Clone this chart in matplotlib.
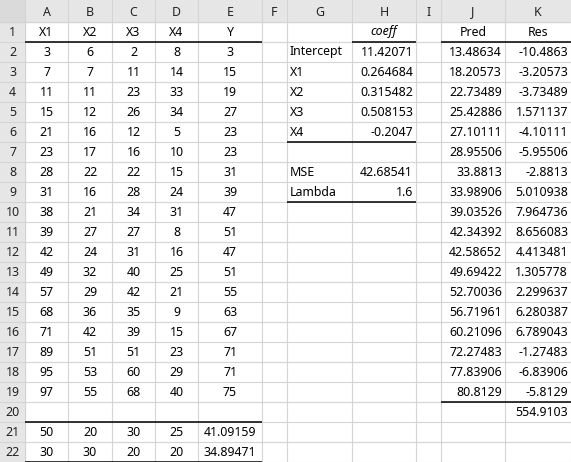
import matplotlib.pyplot as plt
from matplotlib.patches import Rectangle

# spreadsheet data
col_letters = ["A", "B", "C", "D", "E", "F", "G", "H", "I", "J", "K"]
col_edges = [0, 25, 68, 112, 155, 198, 262, 287, 352, 416, 441, 505, 571]
x_headers = ["X1", "X2", "X3", "X4", "Y"]
X1 = [3, 7, 11, 15, 21, 23, 28, 31, 38, 39, 42, 49, 57, 68, 71, 89, 95, 97]
X2 = [6, 7, 11, 12, 16, 17, 22, 16, 21, 27, 24, 32, 29, 36, 42, 51, 53, 55]
X3 = [2, 11, 23, 26, 12, 16, 22, 28, 34, 27, 31, 40, 42, 35, 39, 51, 60, 68]
X4 = [8, 14, 33, 34, 5, 10, 15, 24, 31, 8, 16, 25, 21, 9, 15, 23, 29, 40]
Y = [3, 15, 19, 27, 23, 23, 31, 39, 47, 51, 47, 51, 55, 63, 67, 71, 71, 75]
new_rows = [[50, 20, 30, 25, "41.09159"], [30, 30, 20, 20, "34.89471"]]
coef_names = ["Intercept", "X1", "X2", "X3", "X4"]
coef_vals = ["11.42071", "0.264684", "0.315482", "0.508153", "-0.2047"]
stats_names = ["MSE", "Lambda"]
stats_vals = ["42.68541", "1.6"]
pred = ["13.48634", "18.20573", "22.73489", "25.42886", "27.10111", "28.95506",
        "33.8813", "33.98906", "39.03526", "42.34392", "42.58652", "49.69422",
        "52.70036", "56.71961", "60.21096", "72.27483", "77.83906", "80.8129"]
res = ["-10.4863", "-3.20573", "-3.73489", "1.571137", "-4.10111", "-5.95506",
       "-2.8813", "5.010938", "7.964736", "8.656083", "4.413481", "1.305778",
       "2.299637", "6.280387", "6.789043", "-1.27483", "-6.83906", "-5.8129"]
sse = "554.9103"

n_rows = 22
head_h = 22
row_h = 20
W, H = 571, 462

fig = plt.figure(figsize=(W / 100, H / 100), dpi=100)
ax = fig.add_axes([0, 0, 1, 1])
ax.set_xlim(0, W)
ax.set_ylim(H, 0)
ax.axis("off")

FONT = "Noto Sans"
FS = 8.9
grid = "#d4d4d4"


def ytop(r):
    return head_h + (r - 1) * row_h


def cell(col, r, text, align="center", **kw):
    c = col_letters.index(col) + 1
    x0, x1 = col_edges[c], col_edges[c + 1]
    y = ytop(r) + row_h / 2
    if align == "center":
        x = (x0 + x1) / 2
    elif align == "right":
        x = x1 - 3
    else:
        x = x0 + 3
    ax.text(x, y, str(text), ha=align, va="center", fontsize=FS,
            family=FONT, color="black", **kw)


def hline(c0, c1, r):
    i0 = col_letters.index(c0) + 1
    i1 = col_letters.index(c1) + 2
    y = ytop(r) + row_h
    ax.plot([col_edges[i0], col_edges[i1]], [y, y], color="black", lw=1.1,
            solid_capstyle="butt", zorder=5)


# headers background
ax.add_patch(Rectangle((0, 0), W, head_h, color="#e6e6e6", zorder=0))
ax.add_patch(Rectangle((0, 0), col_edges[1], H, color="#e6e6e6", zorder=0))
ax.add_patch(Rectangle((0, 0), col_edges[1], head_h, color="#dadada", zorder=0))

# gridlines
for x in col_edges[1:]:
    ax.plot([x, x], [0, H], color=grid, lw=0.8, zorder=1)
for r in range(n_rows + 1):
    y = ytop(r + 1)
    ax.plot([0, W], [y, y], color=grid, lw=0.8, zorder=1)

for i, letter in enumerate(col_letters):
    x = (col_edges[i + 1] + col_edges[i + 2]) / 2
    ax.text(x, head_h / 2 + 1, letter, ha="center", va="center", fontsize=FS,
            family=FONT, color="#222222")
for r in range(1, n_rows + 1):
    ax.text(col_edges[1] / 2, ytop(r) + row_h / 2, str(r), ha="center",
            va="center", fontsize=FS, family=FONT, color="#222222")

# left table
for col, h in zip(col_letters[:5], x_headers):
    cell(col, 1, h)
for i in range(len(Y)):
    for col, vals in zip(col_letters[:5], [X1, X2, X3, X4, Y]):
        cell(col, i + 2, vals[i])
for j, row in enumerate(new_rows):
    for col, v in zip(col_letters[:5], row):
        cell(col, 21 + j, v)
hline("A", "E", 1)
hline("A", "E", 20)
hline("A", "E", 22)

# coefficients
cell("H", 1, "coeff", style="italic")
for i, (n, v) in enumerate(zip(coef_names, coef_vals)):
    cell("G", i + 2, n, align="left")
    cell("H", i + 2, v, align="right")
for i, (n, v) in enumerate(zip(stats_names, stats_vals)):
    cell("G", i + 8, n, align="left")
    cell("H", i + 8, v, align="right")
hline("H", "H", 1)
hline("G", "H", 6)
hline("G", "H", 9)

# predictions
cell("J", 1, "Pred")
cell("K", 1, "Res")
for i in range(len(pred)):
    cell("J", i + 2, pred[i], align="right")
    cell("K", i + 2, res[i], align="right")
cell("K", 20, sse, align="right")
hline("J", "K", 1)
hline("J", "K", 19)

fig.savefig("out.png", dpi=100)
